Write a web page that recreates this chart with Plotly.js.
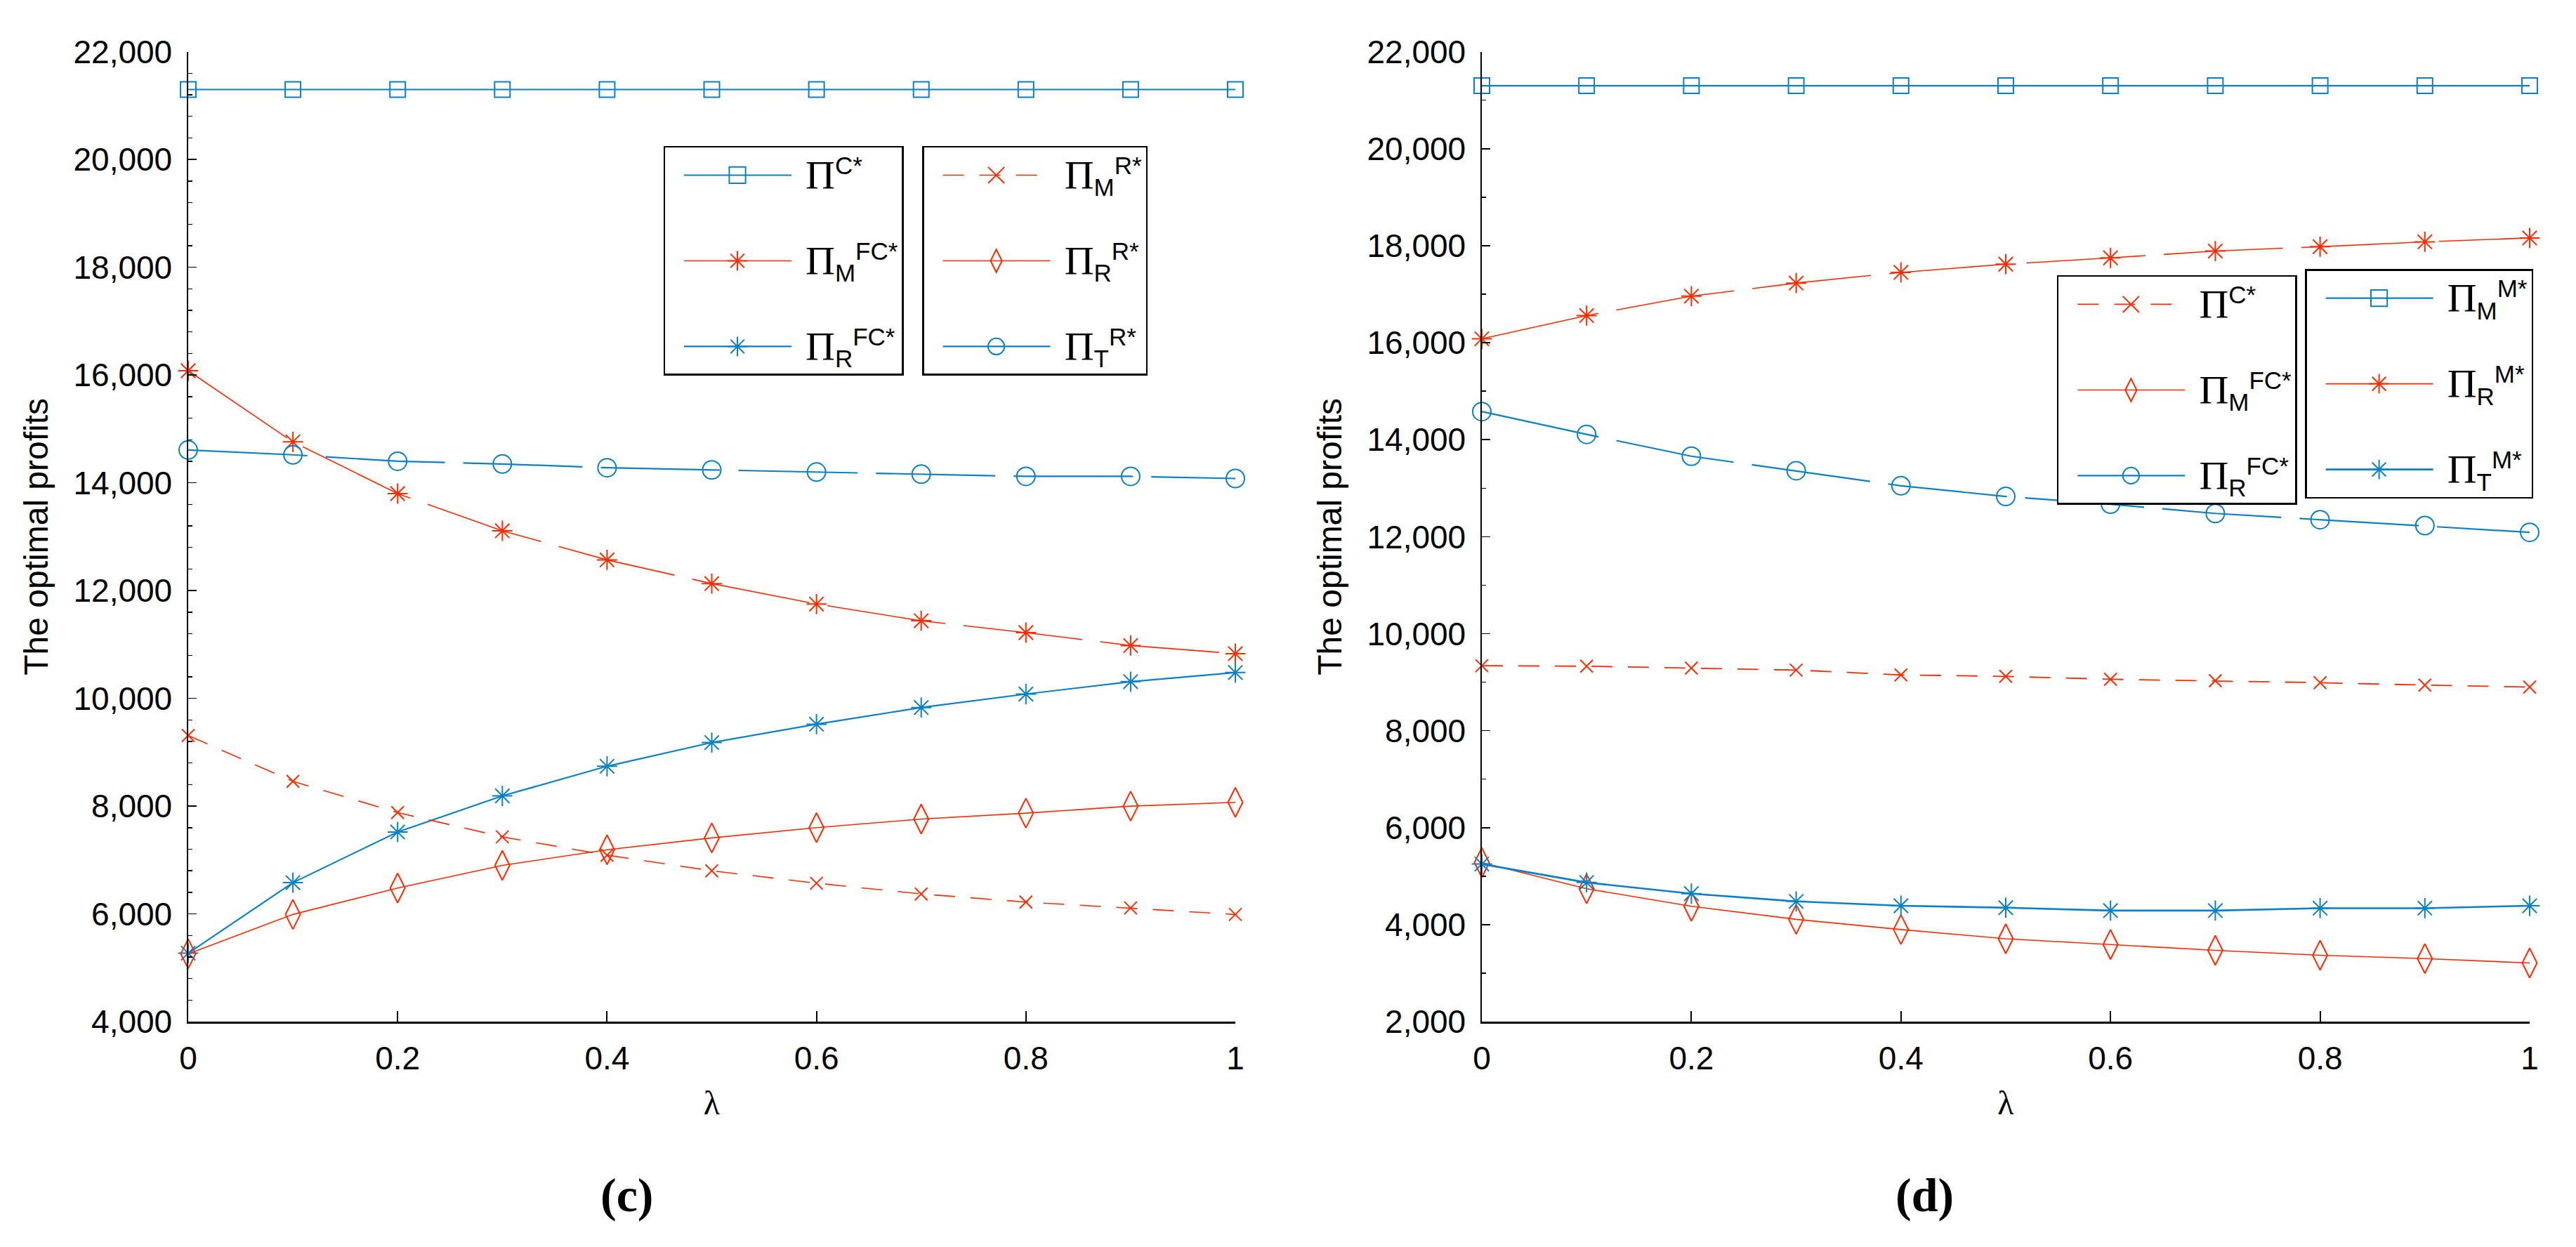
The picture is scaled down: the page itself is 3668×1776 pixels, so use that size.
<!DOCTYPE html>
<html>
<head>
<meta charset="utf-8">
<script src="https://cdn.plot.ly/plotly-3.0.1.min.js"></script>
<style>html,body{margin:0;padding:0;background:#fff;}</style>
</head>
<body>
<div id="chart" style="width:3668px;height:1776px;"></div>
<script>
// ---- data ----
const lambda = [0, 0.1, 0.2, 0.3, 0.4, 0.5, 0.6, 0.7, 0.8, 0.9, 1];
const xTickVals = [0, 0.2, 0.4, 0.6, 0.8, 1];
const xTickText = ['0', '0.2', '0.4', '0.6', '0.8', '1'];

// panel (c)
const c_PiC    = [21300, 21300, 21300, 21300, 21300, 21300, 21300, 21300, 21300, 21300, 21300];
const c_PiM_FC = [16080, 14760, 13800, 13110, 12570, 12130, 11750, 11440, 11220, 10980, 10830];
const c_PiR_FC = [5270, 6580, 7520, 8190, 8740, 9180, 9520, 9830, 10080, 10310, 10480];
const c_PiM_R  = [9310, 8460, 7880, 7430, 7090, 6800, 6570, 6370, 6220, 6110, 5990];
const c_PiR_R  = [5260, 5990, 6480, 6900, 7190, 7410, 7600, 7760, 7870, 8000, 8070];
const c_PiT_R  = [14610, 14520, 14400, 14350, 14280, 14240, 14200, 14160, 14120, 14120, 14080];

// panel (d)
const d_PiC    = [9340, 9330, 9290, 9250, 9150, 9120, 9060, 9030, 8990, 8940, 8900];
const d_PiM_FC = [5280, 4740, 4380, 4110, 3900, 3710, 3590, 3470, 3370, 3300, 3210];
const d_PiR_FC = [14580, 14110, 13660, 13360, 13050, 12830, 12670, 12480, 12350, 12230, 12090];
const d_PiM_M  = [21300, 21300, 21300, 21300, 21300, 21300, 21300, 21300, 21300, 21300, 21300];
const d_PiR_M  = [16080, 16560, 16960, 17230, 17450, 17620, 17750, 17890, 17980, 18080, 18160];
const d_PiT_M  = [5250, 4870, 4640, 4480, 4390, 4350, 4290, 4290, 4340, 4340, 4390];

const yTitle = 'The optimal profits';
const xTitle = 'λ';
const panelLabels = ['(c)', '(d)'];

// ---- styles ----
const BLUE = '#0A80C6';
const RED = '#FF2A00';
const LONGDASH = '170px,26px';
const SHORTDASH = '30px,22px';

function nm(sub, sup) {
  let s = '<span style="font-family:Liberation Serif;font-size:58px">Π</span>';
  if (sub) s += '<sub>' + sub + '</sub>';
  s += '<sup>' + sup + '</sup>';
  return s;
}

function tr(y, xa, ya, name, color, dash, width, symbol, msize, legend, group) {
  return {
    x: lambda, y: y, xaxis: xa, yaxis: ya, name: name, type: 'scatter', mode: 'lines+markers',
    line: {color: color, width: width, dash: dash},
    marker: {symbol: symbol, size: msize, color: color, line: {color: color, width: 2}},
    cliponaxis: false, legend: legend, legendgroup: group
  };
}

const data = [
  tr(c_PiC,    'x', 'y', nm('', 'C*'),   BLUE, 'solid',  2,   'square-open',       22, 'legend',  'c1'),
  tr(c_PiM_FC, 'x', 'y', nm('M', 'FC*'), RED,  LONGDASH, 1.6, 'asterisk-open',     24, 'legend',  'c2'),
  tr(c_PiR_FC, 'x', 'y', nm('R', 'FC*'), BLUE, 'solid',  2.2, 'asterisk-open',     24, 'legend',  'c3'),
  tr(c_PiM_R,  'x', 'y', nm('M', 'R*'),  RED,  SHORTDASH, 1.6, 'x-thin-open',      18, 'legend2', 'c4'),
  tr(c_PiR_R,  'x', 'y', nm('R', 'R*'),  RED,  'solid',  1.6, 'diamond-tall-open', 30, 'legend2', 'c5'),
  tr(c_PiT_R,  'x', 'y', nm('T', 'R*'),  BLUE, LONGDASH, 2.2, 'circle-open',       26, 'legend2', 'c6'),

  tr(d_PiC,    'x2', 'y2', nm('', 'C*'),   RED,  SHORTDASH, 1.8, 'x-thin-open',     18, 'legend3', 'd1'),
  tr(d_PiM_FC, 'x2', 'y2', nm('M', 'FC*'), RED,  'solid',  1.6, 'diamond-tall-open', 30, 'legend3', 'd2'),
  tr(d_PiR_FC, 'x2', 'y2', nm('R', 'FC*'), BLUE, LONGDASH, 2.2, 'circle-open',     26, 'legend3', 'd3'),
  tr(d_PiM_M,  'x2', 'y2', nm('M', 'M*'),  BLUE, 'solid',  2.2, 'square-open',     22, 'legend4', 'd4'),
  tr(d_PiR_M,  'x2', 'y2', nm('R', 'M*'),  RED,  LONGDASH, 1.6, 'asterisk-open',   24, 'legend4', 'd5'),
  tr(d_PiT_M,  'x2', 'y2', nm('T', 'M*'),  BLUE, 'solid',  2.6, 'asterisk-open',   24, 'legend4', 'd6')
];

const W = 3668, H = 1776;
const FONT = 'Liberation Sans, Arial, Helvetica, sans-serif';
const SERIF = 'Liberation Serif, Times New Roman, serif';

function xax(domain, anchor) {
  return {
    domain: domain, anchor: anchor, range: [0, 1], automargin: false,
    tickvals: xTickVals, ticktext: xTickText,
    showline: true, linecolor: 'black', linewidth: 2.5, mirror: false,
    ticks: 'inside', ticklen: 15, tickwidth: 2, tickcolor: 'black',
    ticklabelstandoff: 10,
    showgrid: false, zeroline: false,
    tickfont: {family: FONT, size: 46, color: 'black'},
    title: {text: xTitle, font: {family: SERIF, size: 48, color: 'black'}, standoff: 22}
  };
}
function yax(domain, anchor, range, minorStep) {
  return {
    domain: domain, anchor: anchor, range: range, automargin: false,
    dtick: 2000, tick0: 0, tickformat: ',d',
    showline: true, linecolor: 'black', linewidth: 1.6, mirror: false,
    ticks: 'inside', ticklen: 12, tickwidth: 1.6, tickcolor: 'black',
    ticklabelstandoff: 12,
    minor: {dtick: minorStep, ticks: 'inside', ticklen: 6, tickwidth: 1.4, tickcolor: 'black', showgrid: false},
    showgrid: false, zeroline: false,
    tickfont: {family: FONT, size: 46, color: 'black'},
    title: {text: yTitle, font: {family: FONT, size: 48, color: 'black'}, standoff: 20}
  };
}

function leg(x, y) {
  return {
    x: x, y: y, xref: 'paper', yref: 'paper', xanchor: 'left', yanchor: 'top',
    bgcolor: 'white', bordercolor: 'black', borderwidth: 2.5,
    font: {family: FONT, size: 50, color: 'black'},
    traceorder: 'grouped', tracegroupgap: 54, itemwidth: 190, itemclick: false, itemdoubleclick: false
  };
}

const yDom = [0.1807, 0.9585];
const layout = {
  width: W, height: H,
  margin: {l: 0, r: 0, t: 0, b: 0},
  paper_bgcolor: 'white', plot_bgcolor: 'white',
  font: {family: FONT, size: 46, color: 'black'},
  showlegend: true,
  xaxis: xax([0.07306, 0.47956], 'y'),
  yaxis: yax(yDom, 'x', [4000, 22000], 400),
  xaxis2: xax([0.57524, 0.98201], 'y2'),
  yaxis2: yax(yDom, 'x2', [2000, 22000], 1000),
  legend: leg(0.2575, 0.8829),
  legend2: leg(0.3580, 0.8829),
  legend3: leg(0.7985, 0.7793),
  legend4: leg(0.8948, 0.7843),
  annotations: [
    {text: '<b>' + panelLabels[0] + '</b>', xref: 'paper', yref: 'paper', x: 892 / W, y: 1 - 1702 / H,
     showarrow: false, xanchor: 'center', yanchor: 'middle', font: {family: SERIF, size: 68, color: 'black'}},
    {text: '<b>' + panelLabels[1] + '</b>', xref: 'paper', yref: 'paper', x: 2740 / W, y: 1 - 1702 / H,
     showarrow: false, xanchor: 'center', yanchor: 'middle', font: {family: SERIF, size: 68, color: 'black'}}
  ]
};

Plotly.newPlot('chart', data, layout, {staticPlot: true, displayModeBar: false}).then(function () {
  // lengthen legend sample lines and enlarge legend markers to resemble the original figure
  document.querySelectorAll('g.traces').forEach(function (t) {
    t.querySelectorAll('.legendlines path').forEach(function (p) {
      p.setAttribute('d', 'M27,0h153');
    });
    t.querySelectorAll('.legendsymbols path.scatterpts').forEach(function (p) {
      p.setAttribute('transform', 'translate(103,0) scale(1.45)');
      p.style.vectorEffect = 'non-scaling-stroke';
    });
  });
});
</script>
</body>
</html>
